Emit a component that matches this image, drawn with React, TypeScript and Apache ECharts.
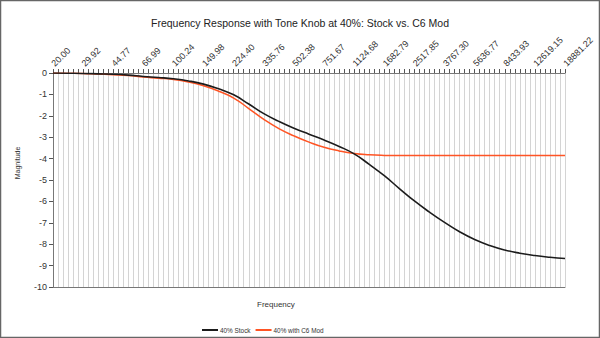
import React, { useEffect, useRef } from "react";
import * as echarts from "echarts";

// Log-spaced frequency grid from 20 Hz up to 18881.22 Hz, 103 points
const F_START = 20;
const F_END = 18881.22;
const N_POINTS = 103;
const frequencies: string[] = Array.from({ length: N_POINTS }, (_, k) =>
  (F_START * Math.pow(F_END / F_START, k / (N_POINTS - 1))).toFixed(2)
);

// Sampled magnitude readings: [frequency index, magnitude]
const stockSeries: [number, number][] = [
  [0, 0.0], [3, -0.01], [6, -0.02], [9, -0.04], [12, -0.06], [15, -0.1],
  [18, -0.16], [21, -0.21], [24, -0.27], [27, -0.37], [30, -0.52], [33, -0.74],
  [36, -1.02], [39, -1.45], [42, -1.9], [45, -2.26], [48, -2.58], [51, -2.86],
  [54, -3.13], [57, -3.43], [60, -3.78], [63, -4.27], [66, -4.8], [69, -5.4],
  [72, -5.98], [75, -6.5], [78, -6.98], [81, -7.42], [84, -7.78], [87, -8.06],
  [90, -8.27], [93, -8.42], [96, -8.53], [99, -8.61], [102, -8.67],
];

const c6Series: [number, number][] = [
  [0, 0.0], [3, -0.01], [6, -0.02], [9, -0.05], [12, -0.08], [15, -0.12],
  [18, -0.19], [21, -0.24], [24, -0.3], [27, -0.42], [30, -0.6], [33, -0.85],
  [36, -1.17], [39, -1.66], [42, -2.17], [45, -2.6], [48, -2.94], [51, -3.23],
  [54, -3.47], [57, -3.64], [60, -3.76], [63, -3.82], [66, -3.85], [69, -3.86],
  [72, -3.86], [78, -3.86], [84, -3.86], [90, -3.86], [96, -3.86], [102, -3.86],
];

const SERIES_NAMES = ["40% Stock", "40% with C6 Mod"];
const FONT = "Liberation Sans, Arial, sans-serif";

export default function App() {
  const ref = useRef<HTMLDivElement>(null);

  useEffect(() => {
    if (!ref.current) return;
    const chart = echarts.init(ref.current, null, { renderer: "svg" });
    chart.setOption({
      animation: false,
      backgroundColor: "#ffffff",
      textStyle: { fontFamily: FONT },
      title: {
        text: "Frequency Response with Tone Knob at 40%: Stock vs. C6 Mod",
        left: 146,
        top: 12,
        textStyle: { fontSize: 10.5, fontWeight: "normal", color: "#222", fontFamily: FONT },
      },
      legend: {
        top: 327,
        left: 202,
        padding: 0,
        itemWidth: 16,
        itemHeight: 2,
        itemGap: 5,
        icon: "rect",
        textStyle: { fontSize: 6.4, color: "#333", fontFamily: FONT, padding: [0, 0, 0, -3] },
        data: SERIES_NAMES,
      },
      grid: { left: 53, right: 35, top: 73, bottom: 51 },
      graphic: [
        {
          type: "rect",
          shape: { x: 0.5, y: 0.5, width: 599, height: 337 },
          style: { fill: "none", stroke: "#666", lineWidth: 1.5 },
          silent: true,
        },
        {
          type: "text",
          left: 257,
          top: 300,
          style: { text: "Frequency", fontSize: 8, fill: "#333", fontFamily: FONT },
        },
        {
          type: "text",
          x: 17,
          y: 163,
          rotation: Math.PI / 2,
          style: {
            text: "Magnitude",
            fontSize: 7,
            fill: "#333",
            fontFamily: FONT,
            align: "center",
            verticalAlign: "middle",
          },
        },
      ],
      xAxis: [
        {
          type: "category",
          position: "top",
          data: frequencies,
          boundaryGap: false,
          axisLine: { show: true, lineStyle: { color: "#777", width: 1 } },
          axisTick: {
            show: true,
            interval: 0,
            length: 4,
            lineStyle: { color: "#555" },
          },
          axisLabel: {
            interval: 5,
            rotate: 45,
            fontSize: 9,
            color: "#333",
            margin: 8,
            fontFamily: FONT,
          },
          splitLine: {
            show: true,
            interval: 0,
            lineStyle: { color: "#d4d4d4", width: 1 },
          },
        },
        {
          type: "category",
          position: "bottom",
          data: frequencies,
          boundaryGap: false,
          axisLine: { show: true, lineStyle: { color: "#777", width: 1 } },
          axisTick: { show: false },
          axisLabel: { show: false },
          splitLine: { show: false },
        },
      ],
      yAxis: {
        type: "value",
        min: -10,
        max: 0,
        interval: 1,
        axisLine: { show: true, lineStyle: { color: "#777", width: 1 } },
        axisTick: { show: true, length: 4, lineStyle: { color: "#555" } },
        axisLabel: { fontSize: 9, color: "#333", margin: 6, fontFamily: FONT },
        splitLine: { show: false },
      },
      series: [
        {
          name: SERIES_NAMES[0],
          type: "line",
          data: stockSeries,
          smooth: 0.5,
          showSymbol: false,
          lineStyle: { color: "#1c1c1c", width: 1.6 },
          itemStyle: { color: "#1c1c1c" },
          z: 3,
        },
        {
          name: SERIES_NAMES[1],
          type: "line",
          data: c6Series,
          smooth: 0.5,
          showSymbol: false,
          lineStyle: { color: "#ff5424", width: 1.5 },
          itemStyle: { color: "#ff5424" },
          z: 2,
        },
      ],
    });
    return () => chart.dispose();
  }, []);

  return (
    <div
      ref={ref}
      style={{ position: "fixed", left: 0, top: 0, width: 600, height: 338 }}
    />
  );
}
